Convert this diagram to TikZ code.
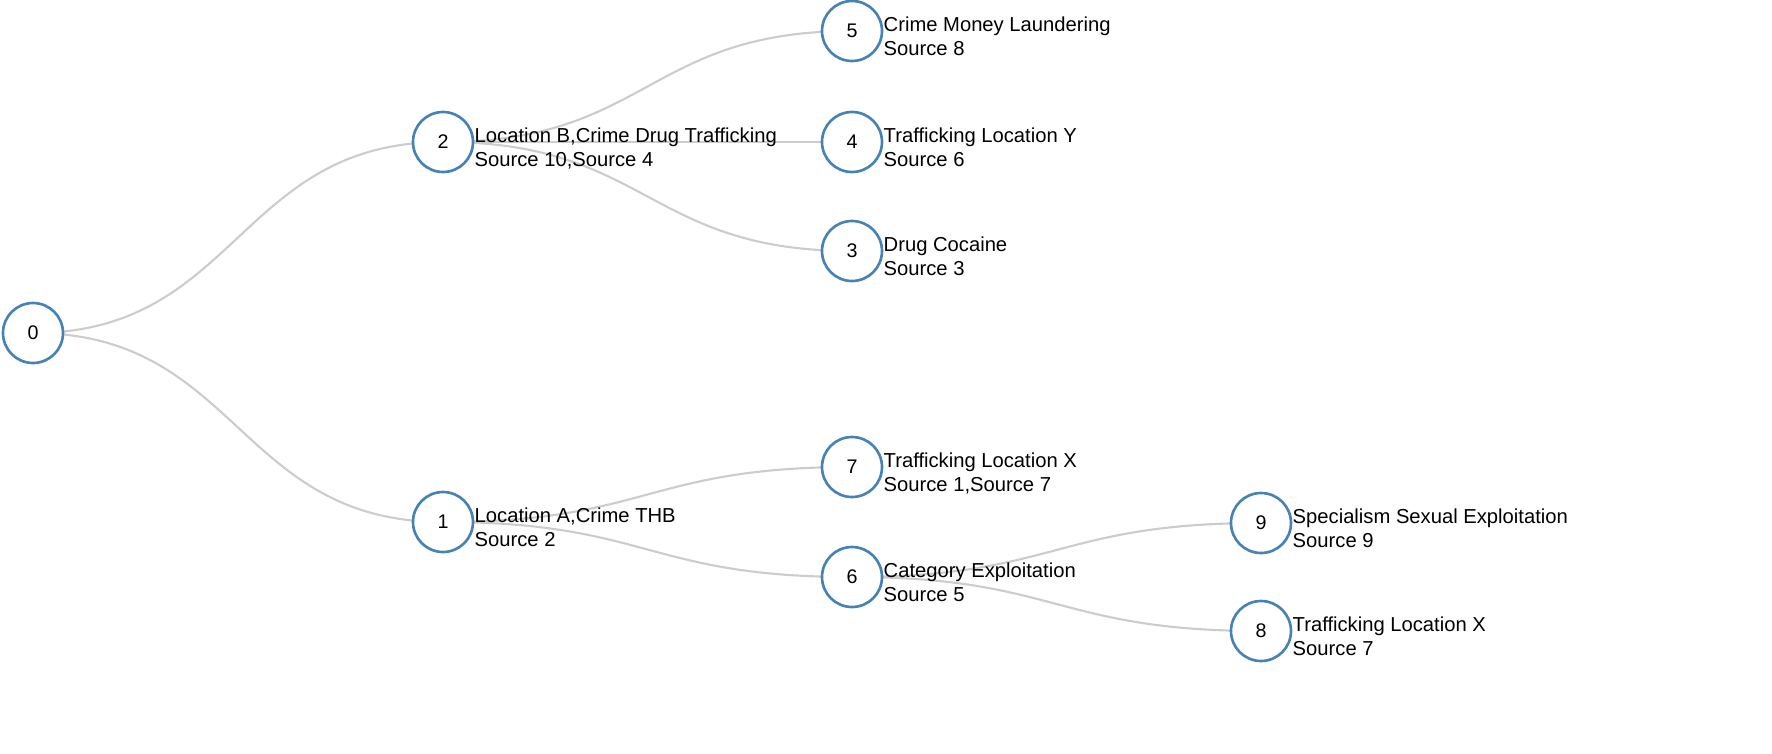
\documentclass[tikz,border=0pt]{standalone}
\usepackage{fontspec}
\setmainfont{Liberation Sans}
\usetikzlibrary{backgrounds}
\definecolor{nodeblue}{RGB}{70,130,180}
\definecolor{linkgray}{RGB}{204,204,204}
\tikzset{
  vnode/.style={circle,draw=nodeblue,fill=white,line width=0.75pt,minimum size=0.6cm,inner sep=0pt,font=\fontsize{5.6pt}{6pt}\selectfont},
  vlabel/.style={anchor=base west,inner sep=0pt,align=left,font=\fontsize{5.75pt}{6.8pt}\selectfont,yshift=-0.24cm},
  link/.style={draw=linkgray,line width=0.6pt,out=0,in=180,out distance=2.05cm,in distance=2.05cm}
}
\begin{document}
\begin{tikzpicture}
\useasboundingbox (0,0) rectangle (17.72,-7.53);
\node[vnode] (n0) at (0.33,-3.33) {0};
\node[vnode] (n2) at (4.43,-1.42) {2};
\node[vnode] (n1) at (4.43,-5.22) {1};
\node[vnode] (n5) at (8.52,-0.31) {5};
\node[vnode] (n4) at (8.52,-1.42) {4};
\node[vnode] (n3) at (8.52,-2.51) {3};
\node[vnode] (n7) at (8.52,-4.67) {7};
\node[vnode] (n6) at (8.52,-5.77) {6};
\node[vnode] (n9) at (12.61,-5.23) {9};
\node[vnode] (n8) at (12.61,-6.31) {8};
\node[vlabel] (l2) at (4.74,-1.42) {Location B,Crime Drug Trafficking\\Source 10,Source 4};
\node[vlabel] (l1) at (4.74,-5.22) {Location A,Crime THB\\Source 2};
\node[vlabel] (l5) at (8.83,-0.31) {Crime Money Laundering\\Source 8};
\node[vlabel] (l4) at (8.83,-1.42) {Trafficking Location Y\\Source 6};
\node[vlabel] (l3) at (8.83,-2.51) {Drug Cocaine\\Source 3};
\node[vlabel] (l7) at (8.83,-4.67) {Trafficking Location X\\Source 1,Source 7};
\node[vlabel] (l6) at (8.83,-5.77) {Category Exploitation\\Source 5};
\node[vlabel] (l9) at (12.92,-5.23) {Specialism Sexual Exploitation\\Source 9};
\node[vlabel] (l8) at (12.92,-6.31) {Trafficking Location X\\Source 7};
\begin{scope}[on background layer]
\draw[link] (n0.center) to (n2.center);
\draw[link] (n0.center) to (n1.center);
\draw[link] (n2.center) to (n5.center);
\draw[link] (n2.center) to (n4.center);
\draw[link] (n2.center) to (n3.center);
\draw[link] (n1.center) to (n7.center);
\draw[link] (n1.center) to (n6.center);
\draw[link] (n6.center) to (n9.center);
\draw[link] (n6.center) to (n8.center);
\end{scope}
\end{tikzpicture}
\end{document}
